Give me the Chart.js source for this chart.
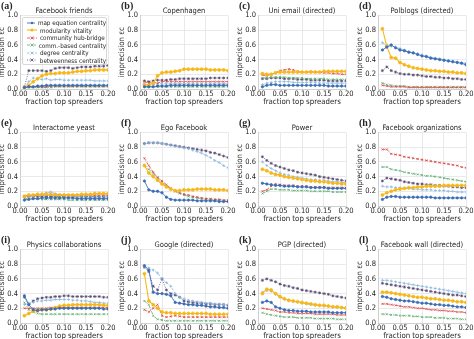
<!DOCTYPE html>
<html>
<head>
<meta charset="utf-8">
<script src="https://cdn.jsdelivr.net/npm/chart.js@4.4.1/dist/chart.umd.min.js"></script>
<style>
  html, body { margin: 0; padding: 0; background: #fff; }
  body { width: 474px; height: 339px; position: relative; overflow: hidden;
         font-family: 'DejaVu Sans Condensed', 'DejaVu Sans', sans-serif; color: #262626; }
  .panel { position: absolute; }
  .letter { position: absolute; font-family: 'Liberation Serif', serif; font-weight: bold; font-size: 10px; line-height: 10px; }
  .ttl { position: absolute; font-size: 7.5px; line-height: 8px; text-align: center; white-space: nowrap; }
  .legend { position: absolute; left: 22px; top: 17px; width: 83px; height: 45px; background: rgba(255,255,255,0.9);
            border: 1px solid #d8d8d8; border-radius: 2px; font-size: 6.3px; line-height: 7.5px; padding-top: 1px; }
  .legend div { height: 7.5px; white-space: nowrap; display: flex; align-items: center; }
  .legend svg { margin-left: 4px; margin-right: 3px; }
</style>
</head>
<body>
<script>
// ===============================
// DATA
// ===============================

const spreaders = [0.01,0.02,0.03,0.04,0.05,0.06,0.07,0.08,0.09,0.10,0.11,0.12,0.13,0.14,0.15,0.16,0.17,0.18,0.19,0.20];
const xTicks = [0, 0.05, 0.10, 0.15, 0.20];
const yTicks = [0, 0.2, 0.4, 0.6, 0.8, 1.0];

const seriesNames = ["map equation centrality", "modularity vitality", "community hub-bridge",
  "comm.-based centrality", "degree centrality", "betweenness centrality"];
const panelLetters = ["(a)","(b)","(c)","(d)","(e)","(f)","(g)","(h)","(i)","(j)","(k)","(l)"];
const panelTitles = ["Facebook friends","Copenhagen","Uni email (directed)","Polblogs (directed)",
  "Interactome yeast","Ego Facebook","Power","Facebook organizations",
  "Physics collaborations","Google (directed)","PGP (directed)","Facebook wall (directed)"];

// (a) Facebook friends
const aMap  = [0.02,0.03,0.03,0.04,0.04,0.05,0.05,0.05,0.05,0.05,0.05,0.05,0.05,0.05,0.05,0.05,0.05,0.05,0.05,0.05];
const aMod  = [0.02,0.05,0.10,0.14,0.18,0.20,0.21,0.21,0.22,0.22,0.22,0.23,0.24,0.24,0.25,0.25,0.26,0.26,0.26,0.26];
const aHub  = [0.03,0.03,0.03,0.03,0.03,0.03,0.04,0.04,0.04,0.04,0.04,0.04,0.04,0.04,0.04,0.04,0.04,0.04,0.04,0.04];
const aComm = [0.02,0.02,0.02,0.02,0.02,0.02,0.02,0.03,0.03,0.03,0.03,0.03,0.03,0.03,0.03,0.03,0.03,0.03,0.03,0.03];
const aDeg  = [0.02,0.10,0.15,0.14,0.13,0.14,0.12,0.13,0.13,0.12,0.12,0.12,0.12,0.12,0.12,0.12,0.11,0.11,0.11,0.11];
const aBet  = [0.03,0.25,0.25,0.25,0.25,0.24,0.25,0.28,0.29,0.29,0.29,0.28,0.29,0.30,0.30,0.30,0.31,0.31,0.31,0.32];

// (b) Copenhagen
const bMap  = [0.03,0.03,0.03,0.04,0.04,0.04,0.05,0.05,0.05,0.05,0.05,0.05,0.05,0.05,0.05,0.05,0.05,0.05,0.05,0.05];
const bMod  = [0.06,0.05,0.08,0.18,0.22,0.23,0.23,0.24,0.25,0.27,0.27,0.27,0.27,0.27,0.27,0.26,0.26,0.26,0.26,0.25];
const bHub  = [0.10,0.08,0.09,0.08,0.10,0.10,0.10,0.10,0.10,0.10,0.10,0.10,0.10,0.10,0.10,0.10,0.10,0.10,0.10,0.10];
const bComm = [0.03,0.03,0.03,0.03,0.03,0.03,0.03,0.03,0.03,0.03,0.03,0.03,0.03,0.03,0.03,0.03,0.03,0.03,0.03,0.03];
const bDeg  = [0.06,0.06,0.06,0.07,0.07,0.07,0.07,0.07,0.07,0.07,0.07,0.07,0.07,0.07,0.07,0.07,0.07,0.07,0.07,0.07];
const bBet  = [0.11,0.10,0.11,0.12,0.12,0.12,0.13,0.13,0.14,0.14,0.14,0.14,0.14,0.14,0.14,0.15,0.15,0.15,0.15,0.15];

// (c) Uni email
const cMap  = [0.03,0.05,0.06,0.06,0.05,0.05,0.05,0.05,0.05,0.05,0.05,0.05,0.05,0.05,0.05,0.04,0.04,0.04,0.04,0.04];
const cMod  = [0.21,0.20,0.20,0.22,0.23,0.23,0.23,0.23,0.23,0.23,0.23,0.23,0.23,0.23,0.24,0.24,0.24,0.24,0.24,0.24];
const cHub  = [0.19,0.18,0.20,0.22,0.25,0.26,0.27,0.26,0.24,0.23,0.23,0.24,0.23,0.23,0.22,0.22,0.21,0.21,0.20,0.20];
const cComm = [0.15,0.15,0.16,0.16,0.16,0.16,0.15,0.15,0.15,0.15,0.14,0.14,0.14,0.14,0.14,0.13,0.13,0.13,0.13,0.13];
const cDeg  = [0.06,0.08,0.09,0.10,0.10,0.10,0.10,0.09,0.09,0.09,0.09,0.09,0.09,0.08,0.08,0.08,0.08,0.08,0.08,0.08];
const cBet  = [0.14,0.14,0.15,0.15,0.15,0.14,0.14,0.14,0.13,0.13,0.13,0.12,0.12,0.12,0.12,0.11,0.11,0.11,0.11,0.11];

// (d) Polblogs
const dMap  = [0.53,0.57,0.60,0.56,0.53,0.52,0.50,0.49,0.47,0.45,0.44,0.42,0.41,0.40,0.39,0.38,0.37,0.36,0.35,0.33];
const dMod  = [0.82,0.58,0.43,0.42,0.36,0.33,0.31,0.29,0.28,0.27,0.26,0.25,0.25,0.24,0.24,0.23,0.23,0.22,0.22,0.21];
const dHub  = [0.05,0.04,0.03,0.03,0.03,0.03,0.02,0.02,0.02,0.02,0.02,0.02,0.02,0.02,0.02,0.02,0.02,0.02,0.02,0.02];
const dComm = [0.08,0.06,0.05,0.04,0.04,0.04,0.03,0.03,0.03,0.03,0.03,0.03,0.03,0.03,0.03,0.03,0.03,0.03,0.03,0.03];
const dDeg  = [0.63,0.60,0.58,0.57,0.55,0.53,0.51,0.50,0.48,0.46,0.45,0.43,0.42,0.41,0.40,0.39,0.38,0.37,0.36,0.35];
const dBet  = [0.25,0.30,0.25,0.23,0.21,0.20,0.20,0.19,0.19,0.18,0.17,0.17,0.16,0.16,0.15,0.15,0.14,0.14,0.13,0.13];

// (e) Interactome yeast
const eMap  = [0.08,0.09,0.10,0.10,0.11,0.11,0.11,0.11,0.11,0.11,0.11,0.11,0.10,0.10,0.10,0.10,0.10,0.10,0.10,0.10];
const eMod  = [0.13,0.15,0.15,0.16,0.16,0.16,0.16,0.15,0.15,0.15,0.15,0.15,0.15,0.16,0.16,0.16,0.17,0.17,0.17,0.17];
const eHub  = [0.14,0.14,0.14,0.15,0.15,0.15,0.15,0.15,0.15,0.15,0.15,0.15,0.15,0.15,0.15,0.15,0.15,0.15,0.15,0.15];
const eComm = [0.10,0.10,0.10,0.10,0.09,0.09,0.09,0.09,0.09,0.09,0.08,0.08,0.08,0.08,0.08,0.08,0.08,0.08,0.08,0.08];
const eDeg  = [0.12,0.13,0.14,0.15,0.16,0.18,0.19,0.17,0.15,0.14,0.13,0.13,0.12,0.12,0.12,0.12,0.12,0.12,0.12,0.12];
const eBet  = [0.13,0.13,0.13,0.13,0.13,0.13,0.13,0.13,0.13,0.13,0.13,0.13,0.13,0.13,0.13,0.13,0.13,0.13,0.13,0.13];

// (f) Ego Facebook
const fMap  = [0.34,0.22,0.20,0.20,0.18,0.12,0.09,0.08,0.08,0.08,0.08,0.08,0.07,0.07,0.07,0.07,0.07,0.06,0.06,0.06];
const fMod  = [0.55,0.45,0.40,0.35,0.30,0.26,0.23,0.21,0.21,0.22,0.22,0.22,0.23,0.23,0.23,0.23,0.22,0.22,0.22,0.21];
const fHub  = [0.65,0.55,0.46,0.39,0.34,0.29,0.24,0.20,0.18,0.16,0.15,0.13,0.12,0.11,0.10,0.10,0.09,0.09,0.08,0.08];
const fComm = [0.56,0.50,0.44,0.38,0.32,0.27,0.23,0.20,0.17,0.15,0.13,0.12,0.11,0.10,0.09,0.09,0.08,0.08,0.07,0.07];
const fDeg  = [0.84,0.86,0.86,0.86,0.85,0.84,0.83,0.81,0.80,0.79,0.78,0.76,0.74,0.72,0.69,0.66,0.62,0.59,0.55,0.52];
const fBet  = [0.85,0.86,0.86,0.86,0.85,0.84,0.83,0.82,0.81,0.80,0.79,0.78,0.77,0.76,0.75,0.73,0.72,0.70,0.68,0.66];

// (g) Power
const gMap  = [0.31,0.30,0.29,0.28,0.28,0.27,0.27,0.27,0.26,0.26,0.26,0.25,0.25,0.25,0.25,0.24,0.24,0.24,0.24,0.24];
const gMod  = [0.50,0.48,0.45,0.43,0.42,0.40,0.39,0.38,0.37,0.36,0.35,0.34,0.34,0.33,0.33,0.32,0.31,0.31,0.30,0.30];
const gHub  = [0.20,0.22,0.27,0.30,0.29,0.28,0.28,0.28,0.27,0.27,0.27,0.26,0.26,0.26,0.26,0.25,0.25,0.25,0.25,0.25];
const gComm = [0.17,0.20,0.23,0.23,0.22,0.22,0.22,0.21,0.21,0.21,0.21,0.20,0.20,0.20,0.20,0.20,0.19,0.19,0.19,0.19];
const gDeg  = [0.60,0.55,0.51,0.48,0.45,0.43,0.42,0.40,0.39,0.38,0.37,0.36,0.36,0.35,0.35,0.34,0.33,0.33,0.32,0.32];
const gBet  = [0.67,0.62,0.58,0.55,0.53,0.51,0.49,0.48,0.46,0.45,0.44,0.43,0.42,0.40,0.39,0.38,0.37,0.36,0.35,0.34];

// (h) Facebook organizations
const hMap  = [0.09,0.12,0.13,0.13,0.12,0.12,0.12,0.12,0.12,0.12,0.12,0.12,0.11,0.11,0.11,0.11,0.11,0.11,0.11,0.11];
const hMod  = [0.15,0.18,0.20,0.22,0.23,0.24,0.25,0.25,0.26,0.26,0.27,0.27,0.27,0.27,0.28,0.28,0.28,0.28,0.28,0.28];
const hHub  = [0.77,0.77,0.71,0.70,0.69,0.67,0.66,0.65,0.64,0.63,0.62,0.61,0.60,0.59,0.58,0.57,0.56,0.55,0.53,0.52];
const hComm = [0.53,0.53,0.50,0.49,0.48,0.46,0.45,0.44,0.43,0.42,0.41,0.41,0.40,0.39,0.38,0.37,0.36,0.35,0.34,0.33];
const hDeg  = [0.27,0.26,0.26,0.25,0.25,0.24,0.24,0.23,0.23,0.22,0.22,0.22,0.21,0.21,0.21,0.20,0.20,0.19,0.19,0.19];
const hBet  = [0.34,0.38,0.37,0.36,0.35,0.33,0.32,0.31,0.30,0.30,0.29,0.29,0.28,0.28,0.27,0.27,0.26,0.26,0.25,0.25];

// (i) Physics collaborations
const iMap  = [0.37,0.25,0.18,0.17,0.18,0.18,0.19,0.19,0.20,0.20,0.20,0.20,0.20,0.20,0.20,0.20,0.20,0.20,0.19,0.19];
const iMod  = [0.10,0.13,0.16,0.17,0.18,0.18,0.19,0.21,0.23,0.24,0.24,0.25,0.25,0.25,0.25,0.25,0.25,0.25,0.24,0.24];
const iHub  = [0.20,0.20,0.20,0.20,0.20,0.20,0.21,0.21,0.21,0.21,0.21,0.21,0.21,0.21,0.21,0.21,0.21,0.21,0.21,0.21];
const iComm = [0.28,0.18,0.15,0.13,0.12,0.12,0.12,0.12,0.12,0.12,0.12,0.12,0.12,0.12,0.12,0.12,0.12,0.12,0.12,0.12];
const iDeg  = [0.25,0.27,0.28,0.30,0.30,0.31,0.31,0.32,0.32,0.32,0.32,0.31,0.31,0.30,0.30,0.29,0.28,0.28,0.27,0.27];
const iBet  = [0.35,0.25,0.30,0.33,0.34,0.35,0.35,0.36,0.36,0.37,0.37,0.36,0.36,0.36,0.36,0.36,0.36,0.36,0.35,0.35];

// (j) Google
const jMap  = [0.78,0.72,0.42,0.40,0.40,0.39,0.37,0.28,0.27,0.26,0.25,0.25,0.24,0.24,0.23,0.22,0.22,0.21,0.21,0.20];
const jMod  = [0.67,0.30,0.25,0.20,0.15,0.14,0.14,0.13,0.13,0.13,0.13,0.13,0.13,0.13,0.13,0.12,0.12,0.12,0.12,0.12];
const jHub  = [0.18,0.15,0.20,0.25,0.10,0.08,0.09,0.10,0.09,0.08,0.08,0.08,0.08,0.08,0.08,0.08,0.08,0.08,0.08,0.08];
const jComm = [0.30,0.25,0.10,0.05,0.04,0.03,0.03,0.03,0.03,0.03,0.03,0.03,0.03,0.03,0.03,0.03,0.03,0.03,0.03,0.03];
const jDeg  = [0.77,0.75,0.72,0.68,0.60,0.55,0.50,0.40,0.35,0.33,0.31,0.30,0.29,0.28,0.27,0.27,0.26,0.26,0.25,0.25];
const jBet  = [0.76,0.70,0.50,0.45,0.60,0.45,0.40,0.38,0.35,0.30,0.29,0.28,0.27,0.27,0.26,0.26,0.25,0.25,0.25,0.24];

// (k) PGP
const kMap  = [0.28,0.30,0.28,0.22,0.20,0.18,0.17,0.17,0.16,0.16,0.16,0.15,0.15,0.15,0.15,0.15,0.14,0.14,0.14,0.14];
const kMod  = [0.40,0.46,0.45,0.40,0.36,0.33,0.31,0.30,0.29,0.28,0.27,0.26,0.25,0.24,0.24,0.23,0.22,0.22,0.21,0.20];
const kHub  = [0.20,0.19,0.18,0.17,0.15,0.15,0.14,0.14,0.13,0.13,0.13,0.13,0.12,0.12,0.12,0.12,0.12,0.11,0.11,0.11];
const kComm = [0.14,0.12,0.11,0.10,0.09,0.08,0.08,0.08,0.07,0.07,0.07,0.07,0.06,0.06,0.06,0.06,0.06,0.05,0.05,0.05];
const kDeg  = [0.42,0.44,0.43,0.39,0.35,0.32,0.30,0.29,0.28,0.27,0.26,0.25,0.24,0.24,0.23,0.23,0.22,0.21,0.21,0.21];
const kBet  = [0.58,0.60,0.58,0.56,0.53,0.51,0.50,0.48,0.47,0.45,0.44,0.43,0.42,0.41,0.40,0.39,0.37,0.36,0.35,0.34];

// (l) Facebook wall
const lMap  = [0.36,0.35,0.33,0.32,0.31,0.30,0.30,0.29,0.28,0.27,0.27,0.26,0.25,0.25,0.24,0.24,0.23,0.22,0.22,0.21];
const lMod  = [0.42,0.42,0.41,0.40,0.39,0.38,0.37,0.36,0.35,0.35,0.34,0.33,0.33,0.32,0.31,0.31,0.30,0.29,0.29,0.28];
const lHub  = [0.26,0.26,0.25,0.24,0.23,0.22,0.22,0.21,0.20,0.20,0.19,0.18,0.18,0.17,0.17,0.16,0.16,0.15,0.15,0.14];
const lComm = [0.12,0.12,0.11,0.11,0.10,0.10,0.10,0.09,0.09,0.08,0.08,0.08,0.07,0.07,0.07,0.06,0.06,0.06,0.05,0.05];
const lDeg  = [0.58,0.58,0.57,0.56,0.55,0.54,0.53,0.52,0.51,0.50,0.49,0.48,0.47,0.46,0.45,0.44,0.43,0.42,0.41,0.40];
const lBet  = [0.54,0.53,0.52,0.51,0.50,0.49,0.48,0.47,0.46,0.45,0.44,0.43,0.42,0.41,0.40,0.39,0.38,0.38,0.37,0.36];

const panelData = [
  [aMap, aMod, aHub, aComm, aDeg, aBet], [bMap, bMod, bHub, bComm, bDeg, bBet],
  [cMap, cMod, cHub, cComm, cDeg, cBet], [dMap, dMod, dHub, dComm, dDeg, dBet],
  [eMap, eMod, eHub, eComm, eDeg, eBet], [fMap, fMod, fHub, fComm, fDeg, fBet],
  [gMap, gMod, gHub, gComm, gDeg, gBet], [hMap, hMod, hHub, hComm, hDeg, hBet],
  [iMap, iMod, iHub, iComm, iDeg, iBet], [jMap, jMod, jHub, jComm, jDeg, jBet],
  [kMap, kMod, kHub, kComm, kDeg, kBet], [lMap, lMod, lHub, lComm, lDeg, lBet]
];

// ===============================
// STYLE
// ===============================

const seriesStyle = [
  { color: '#3a6db5', dash: [], point: 'circle', r: 1.2, width: 0.9 },
  { color: '#f7b718', dash: [], point: 'circle', r: 1.5, width: 1.1 },
  { color: '#d9453f', dash: [3, 1.5], point: 'crossRot', r: 1.4, width: 0.8 },
  { color: '#5aac6c', dash: [3, 1.2, 1, 1.2], point: 'crossRot', r: 1.4, width: 0.8 },
  { color: '#8ab6e0', dash: [2.5, 1.5], point: 'cross', r: 1.5, width: 0.8 },
  { color: '#54466f', dash: [1, 1.5], point: 'star', r: 1.5, width: 0.8 }
];

const FONT = "'DejaVu Sans Condensed', 'DejaVu Sans', sans-serif";
const plotLeft = [20, 140, 258, 378];
const plotTop = [15, 132, 249];
const PW = 88, PH = 74;
const Y_AXIS_W = 23, X_AXIS_H = 18, PAD_T = 6, PAD_R = 12, PAD_L = 2;

// ===============================
// BUILD PANELS
// ===============================

function addDiv(cls, left, top, text, width) {
  const d = document.createElement("div");
  d.className = cls;
  d.style.left = left + "px";
  d.style.top = top + "px";
  if (width) d.style.width = width + "px";
  d.textContent = text;
  document.body.appendChild(d);
  return d;
}

panelData.forEach((series, idx) => {
  const col = idx % 4;
  const row = Math.floor(idx / 4);
  const pl = plotLeft[col], pt = plotTop[row];

  const wrap = document.createElement("div");
  wrap.className = "panel";
  const w = PAD_L + Y_AXIS_W + PW + PAD_R;
  const h = PAD_T + PH + X_AXIS_H;
  wrap.style.left = (pl - Y_AXIS_W - PAD_L) + "px";
  wrap.style.top = (pt - PAD_T) + "px";
  wrap.style.width = w + "px";
  wrap.style.height = h + "px";
  const canvas = document.createElement("canvas");
  canvas.width = w;
  canvas.height = h;
  canvas.style.width = w + "px";
  canvas.style.height = h + "px";
  wrap.appendChild(canvas);
  document.body.appendChild(wrap);

  new Chart(canvas, {
    type: 'line',
    data: {
      labels: spreaders,
      datasets: series.map((vals, s) => ({
        label: seriesNames[s],
        data: vals,
        borderColor: seriesStyle[s].color,
        backgroundColor: seriesStyle[s].color,
        borderWidth: seriesStyle[s].width,
        borderDash: seriesStyle[s].dash,
        pointStyle: seriesStyle[s].point,
        pointRadius: seriesStyle[s].r,
        pointBorderWidth: 0.7,
        tension: 0
      }))
    },
    options: {
      responsive: false,
      animation: false,
      layout: { padding: { top: PAD_T, right: PAD_R, left: PAD_L, bottom: 0 } },
      plugins: { legend: { display: false }, tooltip: { enabled: false } },
      scales: {
        x: {
          type: 'linear', min: 0, max: 0.2,
          afterBuildTicks: (axis) => { axis.ticks = xTicks.map(v => ({ value: v })); },
          afterFit: (axis) => { axis.height = X_AXIS_H; },
          ticks: { color: '#262626', font: { family: FONT, size: 7.5 }, padding: 1,
                   maxRotation: 0, callback: (v) => v.toFixed(2) },
          grid: { color: '#e3e3e3', lineWidth: 0.8, drawTicks: false },
          border: { color: '#cfcfcf' },
          title: { display: true, text: 'fraction top spreaders', color: '#262626',
                   font: { family: FONT, size: 7.8 }, padding: { top: 0, bottom: 0 } }
        },
        y: {
          min: 0, max: 1,
          afterBuildTicks: (axis) => { axis.ticks = yTicks.map(v => ({ value: v })); },
          afterFit: (axis) => { axis.width = Y_AXIS_W; },
          ticks: { color: '#262626', font: { family: FONT, size: 7.5 }, padding: 2,
                   callback: (v) => v.toFixed(1) },
          grid: { color: '#e3e3e3', lineWidth: 0.8, drawTicks: false },
          border: { color: '#cfcfcf' },
          title: { display: true, text: 'imprecision \u03b5c', color: '#262626',
                   font: { family: FONT, size: 7.8 }, padding: { top: 0, bottom: 0 } }
        }
      }
    }
  });

  // panel letter and title as text
  addDiv("letter", pl - 19, pt - 14, panelLetters[idx]);
  addDiv("ttl", pl, pt - 8, panelTitles[idx], PW);
});

// ===============================
// LEGEND (panel a)
// ===============================

const legend = document.createElement("div");
legend.className = "legend";
seriesNames.forEach((name, s) => {
  const st = seriesStyle[s];
  const row = document.createElement("div");
  const dash = st.dash.length ? `stroke-dasharray="${st.dash.join(',')}"` : "";
  let marker = `<circle cx="5" cy="3" r="${st.r}" fill="${st.color}"/>`;
  if (st.point !== 'circle') {
    marker = `<path d="M3.5 1.5 L6.5 4.5 M6.5 1.5 L3.5 4.5" stroke="${st.color}" stroke-width="0.8"/>`;
  }
  row.innerHTML = `<svg width="10" height="6"><line x1="0" y1="3" x2="10" y2="3" stroke="${st.color}" stroke-width="${st.width}" ${dash}/>${marker}</svg><span>${name}</span>`;
  legend.appendChild(row);
});
document.body.appendChild(legend);
</script>
</body>
</html>
